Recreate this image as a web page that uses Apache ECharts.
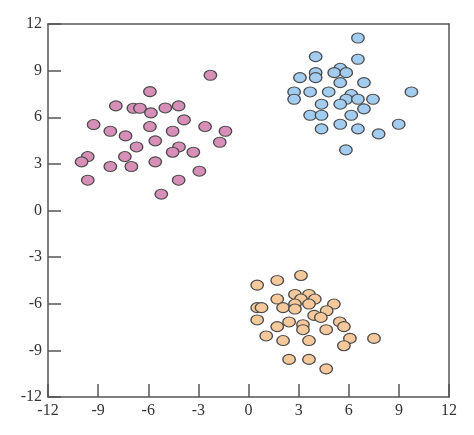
<!DOCTYPE html>
<html><head><meta charset="utf-8">
<script src="https://cdn.jsdelivr.net/npm/echarts@6/dist/echarts.min.js"></script>
<style>html,body{margin:0;padding:0;background:#fff}#c{width:474px;height:435px}</style>
</head><body><div id="c"></div>
<script>
var axisTicks = [-12, -9, -6, -3, 0, 3, 6, 9, 12];
var pinkPoints = [
[-2.28,8.70],[-5.90,7.65],[-7.94,6.73],[-6.89,6.58],[-6.50,6.58],[-5.84,6.28],[-4.98,6.60],[-4.18,6.73],
[-3.86,5.83],[-9.27,5.53],[-5.90,5.40],[-2.60,5.40],[-1.38,5.10],[-8.27,5.10],[-4.54,5.10],[-7.36,4.80],
[-5.58,4.48],[-1.72,4.39],[-6.70,4.09],[-4.16,4.09],[-4.54,3.75],[-3.30,3.75],[-9.62,3.47],[-7.40,3.47],
[-9.99,3.13],[-5.58,3.13],[-8.27,2.83],[-7.01,2.83],[-2.94,2.53],[-9.62,1.95],[-4.18,1.95],[-5.22,1.05]
];
var bluePoints = [
[6.55,11.10],[4.02,9.90],[6.55,9.73],[5.49,9.15],[4.02,8.87],[5.13,8.87],[5.85,8.87],[3.08,8.55],
[4.02,8.55],[5.49,8.23],[6.91,8.23],[2.73,7.63],[3.69,7.63],[4.80,7.63],[9.75,7.63],[6.15,7.46],
[2.73,7.16],[5.85,7.16],[6.55,7.16],[7.45,7.16],[4.37,6.84],[5.49,6.84],[6.91,6.54],[3.69,6.13],
[4.37,6.13],[6.15,6.13],[5.49,5.55],[8.99,5.55],[4.37,5.25],[6.55,5.25],[7.79,4.93],[5.83,3.90]
];
var orangePoints = [
[3.14,-4.18],[1.72,-4.50],[0.52,-4.80],[2.78,-5.40],[3.62,-5.40],[3.97,-5.70],[1.72,-5.70],[3.14,-5.70],
[2.78,-6.02],[3.62,-6.02],[5.11,-6.02],[0.52,-6.25],[0.78,-6.25],[2.07,-6.25],[2.78,-6.34],[4.68,-6.45],
[3.93,-6.75],[4.33,-6.88],[0.52,-7.04],[2.43,-7.17],[5.46,-7.17],[3.26,-7.35],[1.72,-7.47],[5.71,-7.47],
[3.26,-7.67],[4.65,-7.67],[1.06,-8.07],[6.07,-8.23],[7.51,-8.23],[2.07,-8.37],[3.62,-8.37],[5.71,-8.70],
[2.43,-9.58],[3.62,-9.58],[4.65,-10.19]
];
var chart = echarts.init(document.getElementById('c'), null, {renderer: 'canvas'});
var font = {fontFamily: "'Liberation Serif', 'Times New Roman', serif", fontSize: 16, color: '#333'};
function axisCfg(pos) {
  return {
    type: 'value', min: -12, max: 12, interval: 3, position: pos,
    axisLine: {show: true, onZero: false, lineStyle: {color: '#555', width: 1.5}},
    axisTick: {show: true, inside: true, length: 13, lineStyle: {color: '#555', width: 1.5}},
    axisLabel: Object.assign({margin: 6, formatter: function(v){return String(v);}}, font),
    splitLine: {show: false}
  };
}
function border(pos) {
  return {
    type: 'value', min: -12, max: 12, position: pos,
    axisLine: {show: true, onZero: false, lineStyle: {color: '#555', width: 1.5}},
    axisTick: {show: false}, axisLabel: {show: false}, splitLine: {show: false}
  };
}
function series(data, color) {
  return {
    type: 'scatter', data: data, xAxisIndex: 0, yAxisIndex: 0,
    symbol: 'circle', symbolSize: [12.5, 10],
    itemStyle: {color: color, borderColor: '#4a4a4a', borderWidth: 1.2, opacity: 1},
    emphasis: {disabled: true}, animation: false
  };
}
chart.setOption({
  backgroundColor: '#fff',
  animation: false,
  grid: {left: 48, right: 25, top: 24, bottom: 38, containLabel: false},
  xAxis: [axisCfg('bottom'), border('top')],
  yAxis: [axisCfg('left'), border('right')],
  series: [
    series(pinkPoints, '#d78fb8'),
    series(bluePoints, '#a2ccf0'),
    series(orangePoints, '#f5c99b')
  ]
});
</script></body></html>
